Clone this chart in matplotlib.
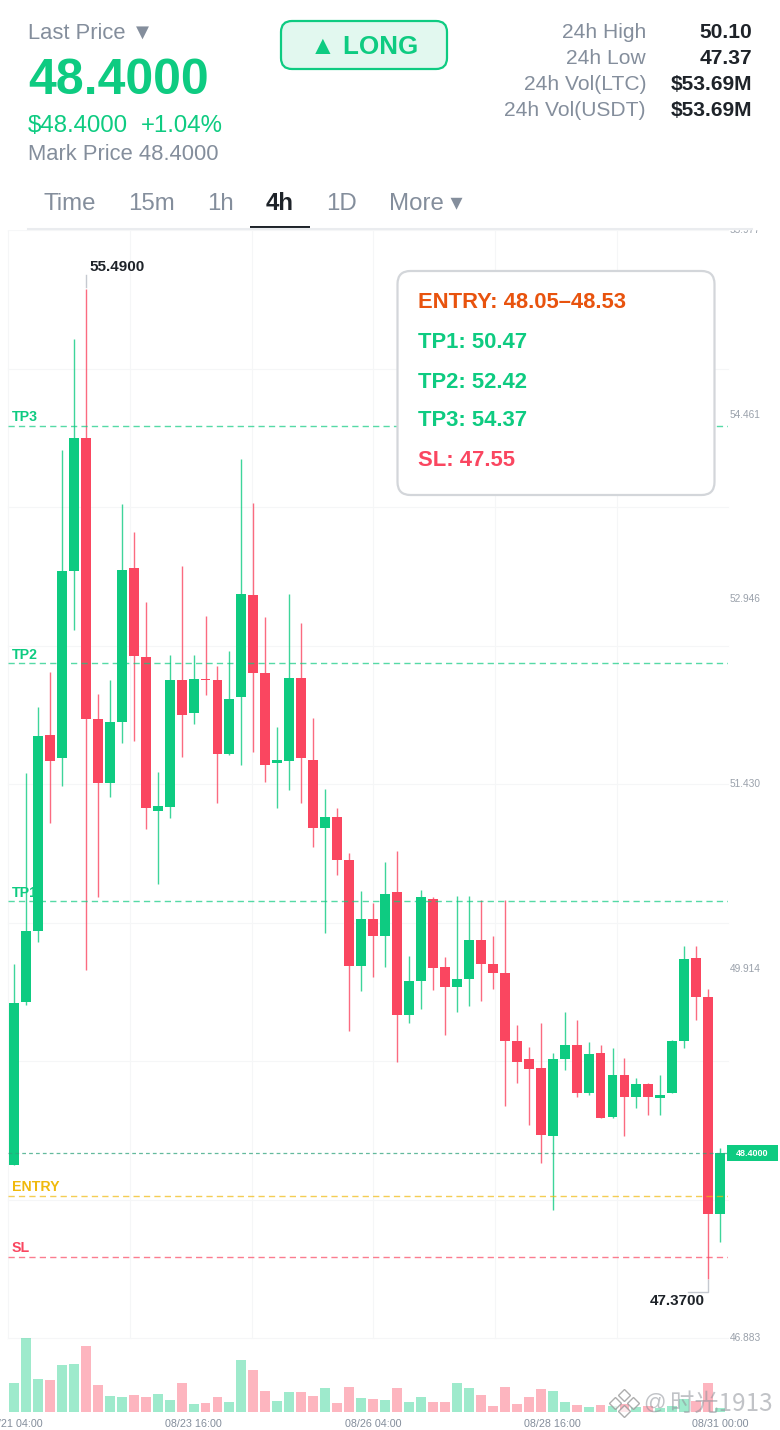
import numpy as np
import matplotlib
matplotlib.use("Agg")
import matplotlib.pyplot as plt
from matplotlib.patches import FancyBboxPatch, Rectangle

plt.rcParams['font.family'] = ['Liberation Sans', 'DejaVu Sans', 'Noto Sans CJK SC']

# candle values
opens = [48.30, 49.64, 50.22, 51.83, 51.64, 53.18, 54.27, 51.96, 51.44, 51.94,
         53.20, 52.47, 51.21, 51.24, 52.28, 52.01, 52.29, 52.28, 51.68, 52.14,
         52.98, 52.34, 51.60, 51.62, 52.30, 51.63, 51.07, 51.16, 50.81, 49.94,
         50.32, 50.18, 50.54, 49.53, 49.81, 50.49, 49.93, 49.76, 49.83, 50.15,
         49.95, 49.88, 49.32, 49.17, 49.10, 48.54, 49.17, 49.29, 48.89, 49.22,
         48.70, 49.04, 48.86, 48.97, 48.85, 48.89, 49.32, 50.00, 49.68, 47.90]
closes = [49.63, 50.22, 51.82, 51.62, 53.18, 54.27, 51.96, 51.44, 51.94, 53.19,
          52.48, 51.23, 51.25, 52.28, 52.00, 52.29, 52.28, 51.68, 52.13, 52.99,
          52.34, 51.59, 51.63, 52.30, 51.64, 51.07, 51.16, 50.81, 49.94, 50.32,
          50.18, 50.53, 49.53, 49.81, 50.50, 49.92, 49.76, 49.83, 50.15, 49.95,
          49.88, 49.32, 49.15, 49.09, 48.55, 49.17, 49.29, 48.89, 49.21, 48.69,
          49.04, 48.86, 48.97, 48.86, 48.88, 49.32, 49.99, 49.68, 47.90, 48.40]
highs = [49.95, 51.52, 52.06, 52.35, 54.17, 55.08, 55.49, 52.17, 52.28, 53.73,
         53.50, 52.92, 51.53, 52.49, 53.22, 52.49, 52.81, 52.40, 52.52, 54.10,
         53.74, 52.80, 51.90, 52.99, 52.75, 51.97, 51.39, 51.23, 50.86, 50.55,
         50.45, 50.79, 50.88, 50.02, 50.56, 50.50, 50.01, 50.51, 50.51, 50.48,
         50.18, 50.48, 49.45, 49.27, 49.47, 49.22, 49.56, 49.49, 49.31, 49.29,
         49.26, 49.18, 49.02, 48.98, 49.04, 49.33, 50.10, 50.10, 49.75, 48.44]
lows = [48.30, 49.62, 50.13, 51.11, 51.41, 52.69, 49.90, 50.50, 51.32, 51.77,
        51.78, 51.06, 50.61, 51.15, 51.65, 51.92, 52.16, 51.27, 51.67, 51.59,
        51.69, 51.45, 51.23, 51.38, 51.27, 50.91, 50.21, 50.68, 49.40, 49.73,
        49.85, 49.93, 49.15, 49.47, 49.58, 49.74, 49.37, 49.56, 49.61, 49.65,
        49.75, 48.79, 48.98, 48.63, 48.32, 47.93, 49.08, 48.86, 48.88, 48.69,
        48.69, 48.54, 48.77, 48.71, 48.71, 48.89, 49.26, 49.49, 47.37, 47.67]
volumes = [86, 222, 98, 95, 140, 145, 199, 80, 47, 46,
           52, 44, 55, 37, 86, 24, 26, 46, 31, 157,
           125, 62, 34, 59, 59, 47, 73, 26, 74, 41,
           38, 36, 71, 30, 45, 31, 29, 86, 71, 52,
           17, 74, 25, 44, 70, 62, 30, 21, 15, 21,
           19, 25, 15, 17, 11, 18, 39, 32, 86, 12]

price_ticks = [55.977, 54.461, 52.946, 51.430, 49.914, 46.883]
level_names = ["TP3", "TP2", "TP1", "ENTRY", "SL"]
level_values = [54.37, 52.42, 50.47, 48.05, 47.55]
time_labels = ["08/21 04:00", "08/23 16:00", "08/26 04:00", "08/28 16:00", "08/31 00:00"]
time_index = [0, 15, 30, 45, 59]
last_price = 48.40

GREEN = "#0ECB81"
RED = "#FA4660"
GREY = "#848E9C"
DARK = "#1E2329"
YELLOW = "#F0B90B"
W, H = 780, 1430


def add_px_axes(x0, y0, x1, y1, z):
    # axes placed with picture pixels, y counted from the top
    return fig.add_axes([x0 / W, 1 - y1 / H, (x1 - x0) / W, (y1 - y0) / H], zorder=z)


fig = plt.figure(figsize=(W / 100, H / 100), dpi=100, facecolor="white")

# background grid
bg = add_px_axes(0, 0, W, H, 0)
bg.set_xlim(0, W)
bg.set_ylim(H, 0)
bg.axis("off")
for k in range(9):
    bg.plot([8, 728], [230 + 138.5 * k] * 2, color="#F5F6F7", lw=0.75)
for x in [8, 130, 252, 373, 495, 617]:
    bg.plot([x, x], [230, 1338], color="#F5F6F7", lw=0.75)

# price panel
xmin = (8 - 14) / 11.97
xmax = (728 - 14) / 11.97
ax = add_px_axes(8, 230, 728, 1338, 1)
ax.set_xlim(xmin, xmax)
ax.set_ylim(46.883, 55.977)
ax.axis("off")
idx = np.arange(len(opens))
colors = [GREEN if c >= o else RED for o, c in zip(opens, closes)]
ax.vlines(idx, lows, highs, colors=colors, lw=1.0, alpha=0.8, zorder=2)
ax.bar(idx, np.abs(np.array(closes) - np.array(opens)), bottom=np.minimum(opens, closes),
       width=0.83, color=colors, zorder=3)

level_colors = [GREEN, GREEN, GREEN, YELLOW, RED]
for name, val, col in zip(level_names, level_values, level_colors):
    ax.axhline(val, color=col, lw=1.0, ls=(0, (4.5, 3)), alpha=0.7, zorder=4)
    ax.text(4 / 720, val + 0.012, name, transform=ax.get_yaxis_transform(), color=col,
            fontsize=10.2, fontweight="bold", va="bottom", zorder=1)
ax.axhline(last_price, color="#2FA37C", lw=0.9, ls=(0, (3, 2.5)), alpha=0.75, zorder=4)

for p in price_ticks:
    ax.text(1.002, p, f"{p:.3f}", transform=ax.get_yaxis_transform(), color="#9AA1AB",
            fontsize=7.3, va="center", clip_on=False)

# volume panel
vol = add_px_axes(8, 1338, 728, 1412, 1)
vol.set_xlim(xmin, xmax)
vol.set_ylim(0, 222)
vol.axis("off")
vol.bar(idx, volumes, width=0.83, color=colors, alpha=0.4)

# everything on top, in pixels
fg = add_px_axes(0, 0, W, H, 5)
fg.set_xlim(0, W)
fg.set_ylim(H, 0)
fg.axis("off")
fg.patch.set_alpha(0)
fg.add_patch(Rectangle((0, 0), W, 229, color="white", zorder=0))


def txt(x, y, s, size, color=GREY, weight="normal", ha="left", **kw):
    return fg.text(x, y + 1.8, s, fontsize=size * 0.72, color=color, fontweight=weight,
                   ha=ha, va="center", **kw)


txt(28, 31, "Last Price ▼", 22)
txt(28, 79, "48.4000", 50, GREEN, "bold")
txt(28, 124, "$48.4000", 24, GREEN)
txt(141, 124, "+1.04%", 24, GREEN)
txt(28, 153, "Mark Price 48.4000", 22)

fg.add_patch(FancyBboxPatch((281, 21), 166, 48, boxstyle="round,pad=0,rounding_size=11",
                            fc="#E2F8EF", ec=GREEN, lw=1.6))
txt(364.5, 45, "▲ LONG", 26, GREEN, "bold", ha="center")

stat_names = ["24h High", "24h Low", "24h Vol(LTC)", "24h Vol(USDT)"]
stat_values = ["50.10", "47.37", "$53.69M", "$53.69M"]
for i in range(4):
    txt(646, 31 + 26 * i, stat_names[i], 21, ha="right")
    txt(752, 31 + 26 * i, stat_values[i], 21, DARK, "bold", ha="right")

for x, s in zip([44, 128, 207, 326, 389], ["Time", "15m", "1h", "1D", "More ▾"]):
    txt(x, 202, s, 24)
txt(266, 202, "4h", 24, DARK, "bold")
fg.plot([28, 752], [229, 229], color="#EAECEF", lw=1.5)
fg.add_patch(Rectangle((250, 226), 60, 4, color=DARK, lw=0))

# levels card
fg.add_patch(FancyBboxPatch((397.5, 271), 317, 224, boxstyle="round,pad=0,rounding_size=13",
                            fc="white", ec="#D3D6DA", lw=1.6))
card_lines = ["ENTRY: 48.05–48.53", "TP1: 50.47", "TP2: 52.42", "TP3: 54.37", "SL: 47.55"]
card_colors = ["#E8530E", GREEN, GREEN, GREEN, RED]
for s, c, y in zip(card_lines, card_colors, [301, 341, 381, 419, 459]):
    txt(418, y, s, 22, c, "bold")

# high and low notes
txt(117, 265, "55.4900", 15.3, DARK, "bold", ha="center")
fg.plot([86, 86], [275, 287], color="#C5C9D0", lw=1)
txt(677, 1299, "47.3700", 15.3, DARK, "bold", ha="center")
fg.plot([708, 708, 688], [1280, 1292, 1292], color="#C5C9D0", lw=1)

# last price tag
fg.add_patch(Rectangle((727, 1145), 51, 16, color=GREEN, lw=0))
txt(752.5, 1152, "48.4000", 9, "white", "bold", ha="center")

for i, s in zip(time_index, time_labels):
    txt(14 + 11.97 * i, 1422.5, s, 10.8, GREY, ha="center")

# watermark
for dx, dy in [(0, -8), (-9, 0), (9, 0), (0, 8)]:
    fg.plot(624 + dx, 1403 + dy, marker="D", ms=6, mfc=(1, 1, 1, 0.7), mec=(0.6, 0.6, 0.6, 0.8), mew=1)
fg.text(643, 1403, "@", fontsize=16, color="#8E9299", alpha=0.55, va="center")
fg.text(670, 1404, "时光1913", fontsize=17.5, color="#8E9299", alpha=0.55, va="center",
        family=['Noto Sans CJK SC', 'DejaVu Sans'])

fig.savefig("out.png", dpi=100)
